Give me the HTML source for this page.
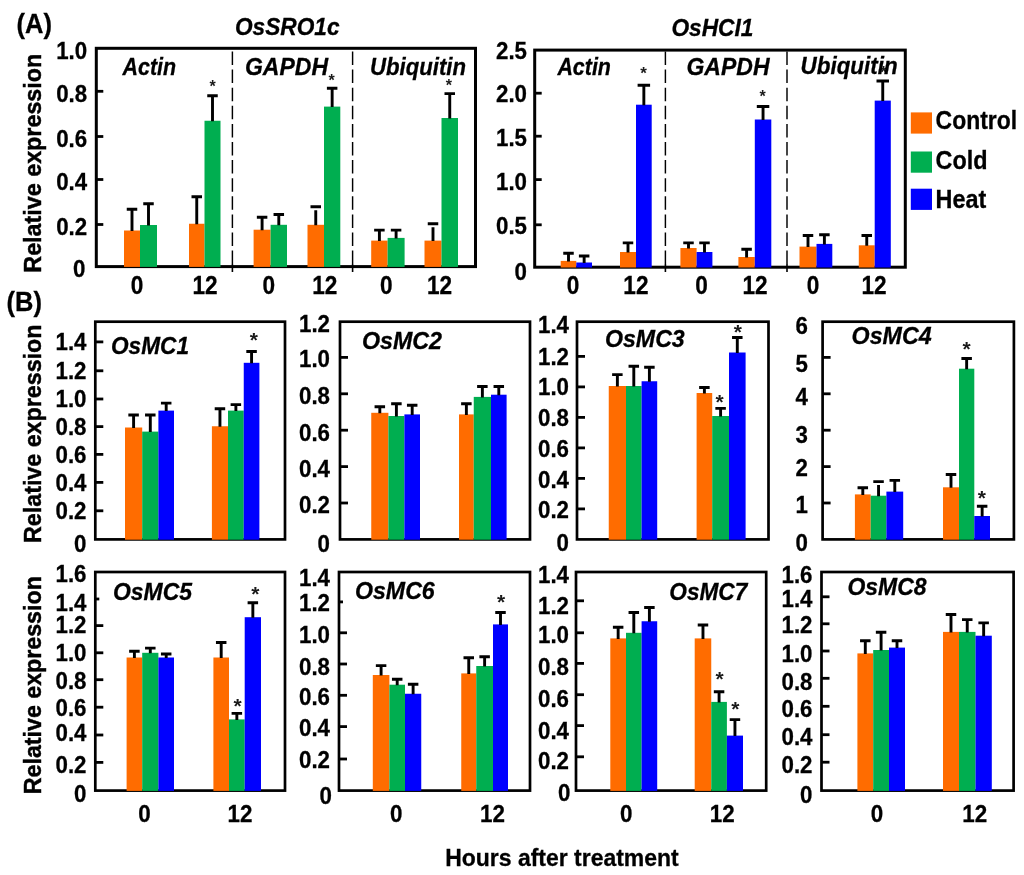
<!DOCTYPE html>
<html lang="en"><head><meta charset="utf-8"><title>Figure</title>
<style>html,body{margin:0;padding:0;background:#fff}svg{display:block;font-family:"Liberation Sans",sans-serif}</style>
</head><body>
<svg width="1024" height="875" viewBox="0 0 1024 875" fill="#000">
<rect width="1024" height="875" fill="#fff"/>
<rect x="96.3" y="48.3" width="379.2" height="218.3" fill="none" stroke="#000" stroke-width="3"/>
<rect x="124.00" y="230.50" width="16.00" height="36.40" fill="#FF6C00"/>
<rect x="140.00" y="225.00" width="17.00" height="41.90" fill="#00AE50"/>
<rect x="189.00" y="223.75" width="15.50" height="43.15" fill="#FF6C00"/>
<rect x="204.50" y="120.75" width="16.00" height="146.15" fill="#00AE50"/>
<rect x="253.60" y="229.70" width="17.00" height="37.20" fill="#FF6C00"/>
<rect x="270.60" y="224.80" width="16.40" height="42.10" fill="#00AE50"/>
<rect x="307.50" y="224.80" width="16.50" height="42.10" fill="#FF6C00"/>
<rect x="324.00" y="106.60" width="16.30" height="160.30" fill="#00AE50"/>
<rect x="371.20" y="240.60" width="16.40" height="26.30" fill="#FF6C00"/>
<rect x="387.60" y="237.90" width="17.00" height="29.00" fill="#00AE50"/>
<rect x="424.50" y="240.60" width="17.00" height="26.30" fill="#FF6C00"/>
<rect x="441.50" y="118.00" width="16.50" height="148.90" fill="#00AE50"/>
<path d="M132.00 209.20V231.00M126.75 209.20H137.25" stroke="#000" stroke-width="2.9" fill="none"/>
<path d="M148.50 203.70V225.50M143.25 203.70H153.75" stroke="#000" stroke-width="2.9" fill="none"/>
<path d="M196.75 196.70V224.25M191.50 196.70H202.00" stroke="#000" stroke-width="2.9" fill="none"/>
<path d="M212.50 95.70V121.25M207.25 95.70H217.75" stroke="#000" stroke-width="2.9" fill="none"/>
<path d="M262.10 217.20V230.20M256.85 217.20H267.35" stroke="#000" stroke-width="2.9" fill="none"/>
<path d="M278.80 214.50V225.30M273.55 214.50H284.05" stroke="#000" stroke-width="2.9" fill="none"/>
<path d="M315.75 210.30V225.30M310.50 206.80H321.00" stroke="#000" stroke-width="2.9" fill="none"/>
<path d="M332.15 88.20V107.10M326.90 88.20H337.40" stroke="#000" stroke-width="2.9" fill="none"/>
<path d="M379.40 230.10V241.10M374.15 230.10H384.65" stroke="#000" stroke-width="2.9" fill="none"/>
<path d="M396.10 230.10V238.40M390.85 230.10H401.35" stroke="#000" stroke-width="2.9" fill="none"/>
<path d="M433.00 227.30V241.10M427.75 223.80H438.25" stroke="#000" stroke-width="2.9" fill="none"/>
<path d="M449.75 93.60V118.50M444.50 93.60H455.00" stroke="#000" stroke-width="2.9" fill="none"/>
<path d="M96.3 224.50h7" stroke="#000" stroke-width="2.8"/>
<path d="M96.3 179.50h7" stroke="#000" stroke-width="2.8"/>
<path d="M96.3 136.50h7" stroke="#000" stroke-width="2.8"/>
<path d="M96.3 91.30h7" stroke="#000" stroke-width="2.8"/>
<text transform="translate(85.4 276.7) scale(0.9091 1)" font-size="24.53" font-weight="bold" text-anchor="end" stroke="#000" stroke-width="0.3">0</text>
<text transform="translate(87.2 234.9) scale(0.9091 1)" font-size="24.53" font-weight="bold" text-anchor="end" stroke="#000" stroke-width="0.3">0.2</text>
<text transform="translate(87.2 189.9) scale(0.9091 1)" font-size="24.53" font-weight="bold" text-anchor="end" stroke="#000" stroke-width="0.3">0.4</text>
<text transform="translate(87.2 146.9) scale(0.9091 1)" font-size="24.53" font-weight="bold" text-anchor="end" stroke="#000" stroke-width="0.3">0.6</text>
<text transform="translate(87.2 101.7) scale(0.9091 1)" font-size="24.53" font-weight="bold" text-anchor="end" stroke="#000" stroke-width="0.3">0.8</text>
<text transform="translate(87.2 58.7) scale(0.9091 1)" font-size="24.53" font-weight="bold" text-anchor="end" stroke="#000" stroke-width="0.3">1.0</text>
<path d="M232.4 51.5V264" stroke="#000" stroke-width="1.45" stroke-dasharray="13.5 4.6" fill="none"/>
<path d="M232.4 264V272" stroke="#000" stroke-width="1.6" fill="none"/>
<path d="M352.6 51.5V264" stroke="#000" stroke-width="1.45" stroke-dasharray="13.5 4.6" fill="none"/>
<path d="M352.6 264V272" stroke="#000" stroke-width="1.6" fill="none"/>
<text x="212.5" y="92.1" font-size="16" font-weight="bold" text-anchor="middle" fill="#1a1a1a">*</text>
<text x="331.6" y="86.1" font-size="16" font-weight="bold" text-anchor="middle" fill="#1a1a1a">*</text>
<text x="448.8" y="91.4" font-size="16" font-weight="bold" text-anchor="middle" fill="#1a1a1a">*</text>
<text transform="translate(122.5 75) scale(0.9091 1)" font-size="24.20" font-weight="bold" text-anchor="start" font-style="italic" textLength="58.9" lengthAdjust="spacingAndGlyphs" stroke="#000" stroke-width="0.3">Actin</text>
<text transform="translate(245 75.2) scale(0.9091 1)" font-size="24.20" font-weight="bold" text-anchor="start" font-style="italic" textLength="91.3" lengthAdjust="spacingAndGlyphs" stroke="#000" stroke-width="0.3">GAPDH</text>
<text transform="translate(370 75) scale(0.9091 1)" font-size="24.20" font-weight="bold" text-anchor="start" font-style="italic" textLength="105.6" lengthAdjust="spacingAndGlyphs" stroke="#000" stroke-width="0.3">Ubiquitin</text>
<text transform="translate(235 35) scale(0.9091 1)" font-size="24.20" font-weight="bold" text-anchor="start" font-style="italic" textLength="115.0" lengthAdjust="spacingAndGlyphs" stroke="#000" stroke-width="0.3">OsSRO1c</text>
<text transform="translate(16.5 32.5) scale(0.9091 1)" font-size="28.05" font-weight="bold" text-anchor="start" stroke="#000" stroke-width="0.3">(A)</text>
<text transform="translate(137 294.3) scale(0.9091 1)" font-size="24.86" font-weight="bold" text-anchor="middle" stroke="#000" stroke-width="0.3">0</text>
<text transform="translate(205 294.3) scale(0.9091 1)" font-size="24.86" font-weight="bold" text-anchor="middle" stroke="#000" stroke-width="0.3">12</text>
<text transform="translate(268.7 294.3) scale(0.9091 1)" font-size="24.86" font-weight="bold" text-anchor="middle" stroke="#000" stroke-width="0.3">0</text>
<text transform="translate(324.7 294.3) scale(0.9091 1)" font-size="24.86" font-weight="bold" text-anchor="middle" stroke="#000" stroke-width="0.3">12</text>
<text transform="translate(386.3 294.3) scale(0.9091 1)" font-size="24.86" font-weight="bold" text-anchor="middle" stroke="#000" stroke-width="0.3">0</text>
<text transform="translate(439.6 294.3) scale(0.9091 1)" font-size="24.86" font-weight="bold" text-anchor="middle" stroke="#000" stroke-width="0.3">12</text>
<rect x="534.7" y="50.1" width="370.5999999999999" height="217.1" fill="none" stroke="#000" stroke-width="3"/>
<rect x="560.70" y="260.90" width="15.60" height="6.60" fill="#FF6C00"/>
<rect x="576.30" y="262.50" width="15.70" height="5.00" fill="#0000FF"/>
<rect x="620.00" y="252.00" width="16.00" height="15.50" fill="#FF6C00"/>
<rect x="636.00" y="104.70" width="15.70" height="162.80" fill="#0000FF"/>
<rect x="680.40" y="248.00" width="16.20" height="19.50" fill="#FF6C00"/>
<rect x="696.60" y="252.00" width="15.80" height="15.50" fill="#0000FF"/>
<rect x="738.40" y="257.00" width="16.40" height="10.50" fill="#FF6C00"/>
<rect x="754.80" y="119.50" width="16.50" height="148.00" fill="#0000FF"/>
<rect x="799.50" y="246.60" width="17.00" height="20.90" fill="#FF6C00"/>
<rect x="816.50" y="243.90" width="15.80" height="23.60" fill="#0000FF"/>
<rect x="858.80" y="245.30" width="15.90" height="22.20" fill="#FF6C00"/>
<rect x="874.70" y="100.60" width="16.10" height="166.90" fill="#0000FF"/>
<path d="M568.50 253.20V261.40M563.25 253.20H573.75" stroke="#000" stroke-width="2.9" fill="none"/>
<path d="M584.15 256.00V263.00M578.90 256.00H589.40" stroke="#000" stroke-width="2.9" fill="none"/>
<path d="M628.00 242.90V252.50M622.75 242.90H633.25" stroke="#000" stroke-width="2.9" fill="none"/>
<path d="M643.85 85.20V105.20M637.60 85.20H650.10" stroke="#000" stroke-width="2.9" fill="none"/>
<path d="M688.50 242.90V248.50M683.25 242.90H693.75" stroke="#000" stroke-width="2.9" fill="none"/>
<path d="M704.50 242.90V252.50M699.25 242.90H709.75" stroke="#000" stroke-width="2.9" fill="none"/>
<path d="M746.60 249.20V257.50M741.35 249.20H751.85" stroke="#000" stroke-width="2.9" fill="none"/>
<path d="M763.05 106.50V120.00M756.80 106.50H769.30" stroke="#000" stroke-width="2.9" fill="none"/>
<path d="M808.00 235.50V247.10M802.75 235.50H813.25" stroke="#000" stroke-width="2.9" fill="none"/>
<path d="M824.40 234.70V244.40M819.15 234.70H829.65" stroke="#000" stroke-width="2.9" fill="none"/>
<path d="M866.75 235.50V245.80M861.50 235.50H872.00" stroke="#000" stroke-width="2.9" fill="none"/>
<path d="M882.75 81.00V101.10M876.50 81.00H889.00" stroke="#000" stroke-width="2.9" fill="none"/>
<path d="M534.7 224.80h7" stroke="#000" stroke-width="2.8"/>
<path d="M534.7 179.60h7" stroke="#000" stroke-width="2.8"/>
<path d="M534.7 136.20h7" stroke="#000" stroke-width="2.8"/>
<path d="M534.7 93.20h7" stroke="#000" stroke-width="2.8"/>
<text transform="translate(527 279.9) scale(0.9091 1)" font-size="24.53" font-weight="bold" text-anchor="end" stroke="#000" stroke-width="0.3">0</text>
<text transform="translate(527 234.2) scale(0.9091 1)" font-size="24.53" font-weight="bold" text-anchor="end" stroke="#000" stroke-width="0.3">0.5</text>
<text transform="translate(527 189.9) scale(0.9091 1)" font-size="24.53" font-weight="bold" text-anchor="end" stroke="#000" stroke-width="0.3">1.0</text>
<text transform="translate(527 146.2) scale(0.9091 1)" font-size="24.53" font-weight="bold" text-anchor="end" stroke="#000" stroke-width="0.3">1.5</text>
<text transform="translate(527 102.4) scale(0.9091 1)" font-size="24.53" font-weight="bold" text-anchor="end" stroke="#000" stroke-width="0.3">2.0</text>
<text transform="translate(527 59.0) scale(0.9091 1)" font-size="24.53" font-weight="bold" text-anchor="end" stroke="#000" stroke-width="0.3">2.5</text>
<path d="M665.4 51.5V264" stroke="#000" stroke-width="1.45" stroke-dasharray="13.5 4.6" fill="none"/>
<path d="M665.4 264V272" stroke="#000" stroke-width="1.6" fill="none"/>
<path d="M787 51.5V264" stroke="#000" stroke-width="1.45" stroke-dasharray="13.5 4.6" fill="none"/>
<path d="M787 264V272" stroke="#000" stroke-width="1.6" fill="none"/>
<text x="643.5" y="78.6" font-size="17" font-weight="bold" text-anchor="middle" fill="#1a1a1a">*</text>
<text x="762.6" y="102.4" font-size="16" font-weight="bold" text-anchor="middle" fill="#1a1a1a">*</text>
<text x="883.5" y="78.1" font-size="16" font-weight="bold" text-anchor="middle" fill="#1a1a1a">*</text>
<text transform="translate(557.4 75) scale(0.9091 1)" font-size="24.20" font-weight="bold" text-anchor="start" font-style="italic" textLength="58.9" lengthAdjust="spacingAndGlyphs" stroke="#000" stroke-width="0.3">Actin</text>
<text transform="translate(686.5 75) scale(0.9091 1)" font-size="24.20" font-weight="bold" text-anchor="start" font-style="italic" textLength="91.3" lengthAdjust="spacingAndGlyphs" stroke="#000" stroke-width="0.3">GAPDH</text>
<text transform="translate(800.6 74) scale(0.9091 1)" font-size="24.20" font-weight="bold" text-anchor="start" font-style="italic" textLength="106.7" lengthAdjust="spacingAndGlyphs" stroke="#000" stroke-width="0.3">Ubiquitin</text>
<text transform="translate(671.4 35.5) scale(0.9091 1)" font-size="24.20" font-weight="bold" text-anchor="start" font-style="italic" textLength="90.2" lengthAdjust="spacingAndGlyphs" stroke="#000" stroke-width="0.3">OsHCI1</text>
<text transform="translate(573 294.3) scale(0.9091 1)" font-size="24.86" font-weight="bold" text-anchor="middle" stroke="#000" stroke-width="0.3">0</text>
<text transform="translate(635.9 294.3) scale(0.9091 1)" font-size="24.86" font-weight="bold" text-anchor="middle" stroke="#000" stroke-width="0.3">12</text>
<text transform="translate(701.5 294.3) scale(0.9091 1)" font-size="24.86" font-weight="bold" text-anchor="middle" stroke="#000" stroke-width="0.3">0</text>
<text transform="translate(755 294.3) scale(0.9091 1)" font-size="24.86" font-weight="bold" text-anchor="middle" stroke="#000" stroke-width="0.3">12</text>
<text transform="translate(813 294.3) scale(0.9091 1)" font-size="24.86" font-weight="bold" text-anchor="middle" stroke="#000" stroke-width="0.3">0</text>
<text transform="translate(874 294.3) scale(0.9091 1)" font-size="24.86" font-weight="bold" text-anchor="middle" stroke="#000" stroke-width="0.3">12</text>
<rect x="910.8" y="112.4" width="21.2" height="21.2" fill="#FF6C00"/>
<text transform="translate(935.6 129) scale(0.9091 1)" font-size="25.74" font-weight="bold" text-anchor="start" textLength="89.7" lengthAdjust="spacingAndGlyphs" stroke="#000" stroke-width="0.3">Control</text>
<rect x="910.8" y="151.5" width="21.2" height="21.2" fill="#00AE50"/>
<text transform="translate(935.6 168.7) scale(0.9091 1)" font-size="25.74" font-weight="bold" text-anchor="start" stroke="#000" stroke-width="0.3">Cold</text>
<rect x="910.8" y="188.7" width="21.2" height="21.2" fill="#0000FF"/>
<text transform="translate(935.6 207.8) scale(0.9091 1)" font-size="25.74" font-weight="bold" text-anchor="start" stroke="#000" stroke-width="0.3">Heat</text>
<text transform="translate(6.5 311) scale(0.9091 1)" font-size="28.05" font-weight="bold" text-anchor="start" stroke="#000" stroke-width="0.3">(B)</text>
<rect x="95.3" y="321.7" width="189.7" height="217.7" fill="none" stroke="#000" stroke-width="2.7"/>
<rect x="125.00" y="427.50" width="17.20" height="112.20" fill="#FF6C00"/>
<rect x="142.20" y="431.60" width="16.20" height="108.10" fill="#00AE50"/>
<rect x="158.40" y="410.60" width="15.60" height="129.10" fill="#0000FF"/>
<rect x="211.90" y="426.25" width="16.10" height="113.45" fill="#FF6C00"/>
<rect x="228.00" y="410.60" width="15.75" height="129.10" fill="#00AE50"/>
<rect x="243.75" y="362.80" width="15.65" height="176.90" fill="#0000FF"/>
<path d="M133.60 414.95V428.00M128.35 414.95H138.85" stroke="#000" stroke-width="2.9" fill="none"/>
<path d="M150.30 414.95V432.10M145.05 414.95H155.55" stroke="#000" stroke-width="2.9" fill="none"/>
<path d="M166.20 403.10V411.10M160.95 403.10H171.45" stroke="#000" stroke-width="2.9" fill="none"/>
<path d="M219.95 408.70V426.75M214.70 408.70H225.20" stroke="#000" stroke-width="2.9" fill="none"/>
<path d="M235.88 404.60V411.10M230.62 404.60H241.12" stroke="#000" stroke-width="2.9" fill="none"/>
<path d="M251.57 351.50V363.30M246.32 351.50H256.82" stroke="#000" stroke-width="2.9" fill="none"/>
<path d="M95.3 510.80h8" stroke="#000" stroke-width="2.8"/>
<path d="M95.3 482.40h8" stroke="#000" stroke-width="2.8"/>
<path d="M95.3 454.40h8" stroke="#000" stroke-width="2.8"/>
<path d="M95.3 426.60h8" stroke="#000" stroke-width="2.8"/>
<path d="M95.3 399.00h8" stroke="#000" stroke-width="2.8"/>
<path d="M95.3 370.80h8" stroke="#000" stroke-width="2.8"/>
<path d="M95.3 341.90h8" stroke="#000" stroke-width="2.8"/>
<text transform="translate(86.5 552.4) scale(0.9091 1)" font-size="24.53" font-weight="bold" text-anchor="end" stroke="#000" stroke-width="0.3">0</text>
<text transform="translate(86.5 519.2) scale(0.9091 1)" font-size="24.53" font-weight="bold" text-anchor="end" stroke="#000" stroke-width="0.3">0.2</text>
<text transform="translate(86.5 490.8) scale(0.9091 1)" font-size="24.53" font-weight="bold" text-anchor="end" stroke="#000" stroke-width="0.3">0.4</text>
<text transform="translate(86.5 462.8) scale(0.9091 1)" font-size="24.53" font-weight="bold" text-anchor="end" stroke="#000" stroke-width="0.3">0.6</text>
<text transform="translate(86.5 435.0) scale(0.9091 1)" font-size="24.53" font-weight="bold" text-anchor="end" stroke="#000" stroke-width="0.3">0.8</text>
<text transform="translate(86.5 407.4) scale(0.9091 1)" font-size="24.53" font-weight="bold" text-anchor="end" stroke="#000" stroke-width="0.3">1.0</text>
<text transform="translate(86.5 379.2) scale(0.9091 1)" font-size="24.53" font-weight="bold" text-anchor="end" stroke="#000" stroke-width="0.3">1.2</text>
<text transform="translate(86.5 350.3) scale(0.9091 1)" font-size="24.53" font-weight="bold" text-anchor="end" stroke="#000" stroke-width="0.3">1.4</text>
<text x="253.8" y="347.0" font-size="21" font-weight="bold" text-anchor="middle" fill="#1a1a1a">*</text>
<text transform="translate(111 354.4) scale(0.9091 1)" font-size="24.20" font-weight="bold" text-anchor="start" font-style="italic" textLength="85.8" lengthAdjust="spacingAndGlyphs" stroke="#000" stroke-width="0.3">OsMC1</text>
<rect x="340" y="321.7" width="190" height="217.7" fill="none" stroke="#000" stroke-width="2.7"/>
<rect x="371.25" y="412.80" width="17.15" height="126.90" fill="#FF6C00"/>
<rect x="388.40" y="416.00" width="16.00" height="123.70" fill="#00AE50"/>
<rect x="404.40" y="414.40" width="15.60" height="125.30" fill="#0000FF"/>
<rect x="459.00" y="414.40" width="14.75" height="125.30" fill="#FF6C00"/>
<rect x="473.75" y="396.90" width="17.25" height="142.80" fill="#00AE50"/>
<rect x="491.00" y="394.70" width="15.60" height="145.00" fill="#0000FF"/>
<path d="M379.82 406.80V413.30M374.57 406.80H385.07" stroke="#000" stroke-width="2.9" fill="none"/>
<path d="M396.40 403.70V416.50M391.15 403.70H401.65" stroke="#000" stroke-width="2.9" fill="none"/>
<path d="M412.20 405.20V414.90M406.95 405.20H417.45" stroke="#000" stroke-width="2.9" fill="none"/>
<path d="M466.38 403.70V414.90M461.12 403.70H471.62" stroke="#000" stroke-width="2.9" fill="none"/>
<path d="M482.38 386.50V397.40M477.12 386.50H487.62" stroke="#000" stroke-width="2.9" fill="none"/>
<path d="M498.80 386.50V395.20M493.55 386.50H504.05" stroke="#000" stroke-width="2.9" fill="none"/>
<path d="M340 503.00h8" stroke="#000" stroke-width="2.8"/>
<path d="M340 466.60h8" stroke="#000" stroke-width="2.8"/>
<path d="M340 430.20h8" stroke="#000" stroke-width="2.8"/>
<path d="M340 393.80h8" stroke="#000" stroke-width="2.8"/>
<path d="M340 357.40h8" stroke="#000" stroke-width="2.8"/>
<text transform="translate(330 552.0) scale(0.9091 1)" font-size="24.53" font-weight="bold" text-anchor="end" stroke="#000" stroke-width="0.3">0</text>
<text transform="translate(330 513.4) scale(0.9091 1)" font-size="24.53" font-weight="bold" text-anchor="end" stroke="#000" stroke-width="0.3">0.2</text>
<text transform="translate(330 476.9) scale(0.9091 1)" font-size="24.53" font-weight="bold" text-anchor="end" stroke="#000" stroke-width="0.3">0.4</text>
<text transform="translate(330 440.6) scale(0.9091 1)" font-size="24.53" font-weight="bold" text-anchor="end" stroke="#000" stroke-width="0.3">0.6</text>
<text transform="translate(330 404.0) scale(0.9091 1)" font-size="24.53" font-weight="bold" text-anchor="end" stroke="#000" stroke-width="0.3">0.8</text>
<text transform="translate(330 367.4) scale(0.9091 1)" font-size="24.53" font-weight="bold" text-anchor="end" stroke="#000" stroke-width="0.3">1.0</text>
<text transform="translate(330 332.0) scale(0.9091 1)" font-size="24.53" font-weight="bold" text-anchor="end" stroke="#000" stroke-width="0.3">1.2</text>
<text transform="translate(362 349.4) scale(0.9091 1)" font-size="24.20" font-weight="bold" text-anchor="start" font-style="italic" textLength="88.0" lengthAdjust="spacingAndGlyphs" stroke="#000" stroke-width="0.3">OsMC2</text>
<rect x="577" y="321.7" width="191.5" height="217.7" fill="none" stroke="#000" stroke-width="2.7"/>
<rect x="608.75" y="386.00" width="17.25" height="153.70" fill="#FF6C00"/>
<rect x="626.00" y="386.00" width="15.60" height="153.70" fill="#00AE50"/>
<rect x="641.60" y="381.25" width="15.60" height="158.45" fill="#0000FF"/>
<rect x="696.60" y="393.00" width="15.60" height="146.70" fill="#FF6C00"/>
<rect x="712.20" y="416.00" width="16.80" height="123.70" fill="#00AE50"/>
<rect x="729.00" y="352.50" width="16.60" height="187.20" fill="#0000FF"/>
<path d="M617.38 374.60V386.50M612.12 374.60H622.62" stroke="#000" stroke-width="2.9" fill="none"/>
<path d="M633.80 366.20V386.50M628.55 366.20H639.05" stroke="#000" stroke-width="2.9" fill="none"/>
<path d="M649.40 367.20V381.75M644.15 367.20H654.65" stroke="#000" stroke-width="2.9" fill="none"/>
<path d="M704.40 387.45V393.50M699.15 387.45H709.65" stroke="#000" stroke-width="2.9" fill="none"/>
<path d="M720.60 408.40V416.50M715.35 408.40H725.85" stroke="#000" stroke-width="2.9" fill="none"/>
<path d="M737.30 337.45V353.00M732.05 337.45H742.55" stroke="#000" stroke-width="2.9" fill="none"/>
<path d="M577 508.90h8" stroke="#000" stroke-width="2.8"/>
<path d="M577 478.40h8" stroke="#000" stroke-width="2.8"/>
<path d="M577 447.90h8" stroke="#000" stroke-width="2.8"/>
<path d="M577 417.40h8" stroke="#000" stroke-width="2.8"/>
<path d="M577 386.90h8" stroke="#000" stroke-width="2.8"/>
<path d="M577 356.40h8" stroke="#000" stroke-width="2.8"/>
<text transform="translate(569 551.2) scale(0.9091 1)" font-size="24.53" font-weight="bold" text-anchor="end" stroke="#000" stroke-width="0.3">0</text>
<text transform="translate(569 518.3) scale(0.9091 1)" font-size="24.53" font-weight="bold" text-anchor="end" stroke="#000" stroke-width="0.3">0.2</text>
<text transform="translate(569 488.3) scale(0.9091 1)" font-size="24.53" font-weight="bold" text-anchor="end" stroke="#000" stroke-width="0.3">0.4</text>
<text transform="translate(569 457.4) scale(0.9091 1)" font-size="24.53" font-weight="bold" text-anchor="end" stroke="#000" stroke-width="0.3">0.6</text>
<text transform="translate(569 426.0) scale(0.9091 1)" font-size="24.53" font-weight="bold" text-anchor="end" stroke="#000" stroke-width="0.3">0.8</text>
<text transform="translate(569 395.4) scale(0.9091 1)" font-size="24.53" font-weight="bold" text-anchor="end" stroke="#000" stroke-width="0.3">1.0</text>
<text transform="translate(569 365.4) scale(0.9091 1)" font-size="24.53" font-weight="bold" text-anchor="end" stroke="#000" stroke-width="0.3">1.2</text>
<text transform="translate(569 333.2) scale(0.9091 1)" font-size="24.53" font-weight="bold" text-anchor="end" stroke="#000" stroke-width="0.3">1.4</text>
<text x="719.7" y="409.4" font-size="21" font-weight="bold" text-anchor="middle" fill="#1a1a1a">*</text>
<text x="737.8" y="339.0" font-size="21" font-weight="bold" text-anchor="middle" fill="#1a1a1a">*</text>
<text transform="translate(605 347.2) scale(0.9091 1)" font-size="24.20" font-weight="bold" text-anchor="start" font-style="italic" textLength="87.7" lengthAdjust="spacingAndGlyphs" stroke="#000" stroke-width="0.3">OsMC3</text>
<rect x="822.6" y="321.7" width="191.29999999999995" height="217.7" fill="none" stroke="#000" stroke-width="2.7"/>
<rect x="854.90" y="494.40" width="15.80" height="45.30" fill="#FF6C00"/>
<rect x="870.70" y="495.70" width="15.70" height="44.00" fill="#00AE50"/>
<rect x="886.40" y="491.60" width="16.80" height="48.10" fill="#0000FF"/>
<rect x="943.00" y="487.30" width="16.00" height="52.40" fill="#FF6C00"/>
<rect x="959.00" y="368.70" width="15.30" height="171.00" fill="#00AE50"/>
<rect x="974.30" y="516.00" width="15.70" height="23.70" fill="#0000FF"/>
<path d="M862.80 487.70V494.90M857.55 487.70H868.05" stroke="#000" stroke-width="2.9" fill="none"/>
<path d="M878.55 485.10V496.20M873.30 481.60H883.80" stroke="#000" stroke-width="2.9" fill="none"/>
<path d="M894.80 480.40V492.10M889.55 480.40H900.05" stroke="#000" stroke-width="2.9" fill="none"/>
<path d="M951.00 474.50V487.80M945.75 474.50H956.25" stroke="#000" stroke-width="2.9" fill="none"/>
<path d="M966.65 358.50V369.20M961.40 358.50H971.90" stroke="#000" stroke-width="2.9" fill="none"/>
<path d="M982.15 506.20V516.50M976.90 506.20H987.40" stroke="#000" stroke-width="2.9" fill="none"/>
<path d="M822.6 503.00h8" stroke="#000" stroke-width="2.8"/>
<path d="M822.6 466.60h8" stroke="#000" stroke-width="2.8"/>
<path d="M822.6 430.20h8" stroke="#000" stroke-width="2.8"/>
<path d="M822.6 393.80h8" stroke="#000" stroke-width="2.8"/>
<path d="M822.6 357.40h8" stroke="#000" stroke-width="2.8"/>
<text transform="translate(808 551.2) scale(0.9091 1)" font-size="24.53" font-weight="bold" text-anchor="end" stroke="#000" stroke-width="0.3">0</text>
<text transform="translate(808 513.2) scale(0.9091 1)" font-size="24.53" font-weight="bold" text-anchor="end" stroke="#000" stroke-width="0.3">1</text>
<text transform="translate(808 476.0) scale(0.9091 1)" font-size="24.53" font-weight="bold" text-anchor="end" stroke="#000" stroke-width="0.3">2</text>
<text transform="translate(808 442.6) scale(0.9091 1)" font-size="24.53" font-weight="bold" text-anchor="end" stroke="#000" stroke-width="0.3">3</text>
<text transform="translate(808 405.4) scale(0.9091 1)" font-size="24.53" font-weight="bold" text-anchor="end" stroke="#000" stroke-width="0.3">4</text>
<text transform="translate(808 372.0) scale(0.9091 1)" font-size="24.53" font-weight="bold" text-anchor="end" stroke="#000" stroke-width="0.3">5</text>
<text transform="translate(808 334.0) scale(0.9091 1)" font-size="24.53" font-weight="bold" text-anchor="end" stroke="#000" stroke-width="0.3">6</text>
<text x="966.6" y="356.0" font-size="21" font-weight="bold" text-anchor="middle" fill="#1a1a1a">*</text>
<text x="981.9" y="505.0" font-size="21" font-weight="bold" text-anchor="middle" fill="#1a1a1a">*</text>
<text transform="translate(851.6 344) scale(0.9091 1)" font-size="24.20" font-weight="bold" text-anchor="start" font-style="italic" textLength="88.0" lengthAdjust="spacingAndGlyphs" stroke="#000" stroke-width="0.3">OsMC4</text>
<rect x="95.3" y="572.0" width="189.7" height="218.60000000000002" fill="none" stroke="#000" stroke-width="2.7"/>
<rect x="126.60" y="657.50" width="15.60" height="133.40" fill="#FF6C00"/>
<rect x="142.20" y="652.80" width="16.20" height="138.10" fill="#00AE50"/>
<rect x="158.40" y="657.50" width="15.60" height="133.40" fill="#0000FF"/>
<rect x="213.40" y="657.50" width="15.60" height="133.40" fill="#FF6C00"/>
<rect x="229.00" y="719.40" width="15.70" height="71.50" fill="#00AE50"/>
<rect x="244.70" y="617.20" width="16.30" height="173.70" fill="#0000FF"/>
<path d="M134.40 651.20V658.00M129.15 651.20H139.65" stroke="#000" stroke-width="2.9" fill="none"/>
<path d="M150.30 648.10V653.30M145.05 648.10H155.55" stroke="#000" stroke-width="2.9" fill="none"/>
<path d="M166.20 654.00V658.00M160.95 654.00H171.45" stroke="#000" stroke-width="2.9" fill="none"/>
<path d="M221.20 642.45V658.00M215.95 642.45H226.45" stroke="#000" stroke-width="2.9" fill="none"/>
<path d="M236.85 713.40V719.90M231.60 713.40H242.10" stroke="#000" stroke-width="2.9" fill="none"/>
<path d="M252.85 602.80V617.70M247.60 602.80H258.10" stroke="#000" stroke-width="2.9" fill="none"/>
<path d="M95.3 762.40h8" stroke="#000" stroke-width="2.8"/>
<path d="M95.3 735.00h8" stroke="#000" stroke-width="2.8"/>
<path d="M95.3 707.20h8" stroke="#000" stroke-width="2.8"/>
<path d="M95.3 679.70h8" stroke="#000" stroke-width="2.8"/>
<path d="M95.3 652.80h8" stroke="#000" stroke-width="2.8"/>
<path d="M95.3 625.60h8" stroke="#000" stroke-width="2.8"/>
<path d="M95.3 599.00h4" stroke="#000" stroke-width="2.8"/>
<text transform="translate(86.5 802.0) scale(0.9091 1)" font-size="24.53" font-weight="bold" text-anchor="end" stroke="#000" stroke-width="0.3">0</text>
<text transform="translate(86.5 772.6) scale(0.9091 1)" font-size="24.53" font-weight="bold" text-anchor="end" stroke="#000" stroke-width="0.3">0.2</text>
<text transform="translate(86.5 741.2) scale(0.9091 1)" font-size="24.53" font-weight="bold" text-anchor="end" stroke="#000" stroke-width="0.3">0.4</text>
<text transform="translate(86.5 716.3) scale(0.9091 1)" font-size="24.53" font-weight="bold" text-anchor="end" stroke="#000" stroke-width="0.3">0.6</text>
<text transform="translate(86.5 689.2) scale(0.9091 1)" font-size="24.53" font-weight="bold" text-anchor="end" stroke="#000" stroke-width="0.3">0.8</text>
<text transform="translate(86.5 661.2) scale(0.9091 1)" font-size="24.53" font-weight="bold" text-anchor="end" stroke="#000" stroke-width="0.3">1.0</text>
<text transform="translate(86.5 632.6) scale(0.9091 1)" font-size="24.53" font-weight="bold" text-anchor="end" stroke="#000" stroke-width="0.3">1.2</text>
<text transform="translate(86.5 610.6) scale(0.9091 1)" font-size="24.53" font-weight="bold" text-anchor="end" stroke="#000" stroke-width="0.3">1.4</text>
<text transform="translate(86.5 582.0) scale(0.9091 1)" font-size="24.53" font-weight="bold" text-anchor="end" stroke="#000" stroke-width="0.3">1.6</text>
<text x="237.5" y="713.0" font-size="21" font-weight="bold" text-anchor="middle" fill="#1a1a1a">*</text>
<text x="255.3" y="601.3" font-size="21" font-weight="bold" text-anchor="middle" fill="#1a1a1a">*</text>
<text transform="translate(113 600) scale(0.9091 1)" font-size="24.20" font-weight="bold" text-anchor="start" font-style="italic" textLength="86.9" lengthAdjust="spacingAndGlyphs" stroke="#000" stroke-width="0.3">OsMC5</text>
<rect x="339" y="572.0" width="191" height="218.60000000000002" fill="none" stroke="#000" stroke-width="2.7"/>
<rect x="372.80" y="675.00" width="16.60" height="115.90" fill="#FF6C00"/>
<rect x="389.40" y="684.70" width="15.60" height="106.20" fill="#00AE50"/>
<rect x="405.00" y="693.75" width="16.25" height="97.15" fill="#0000FF"/>
<rect x="461.25" y="673.40" width="15.00" height="117.50" fill="#FF6C00"/>
<rect x="476.25" y="666.00" width="16.75" height="124.90" fill="#00AE50"/>
<rect x="493.00" y="624.40" width="15.00" height="166.50" fill="#0000FF"/>
<path d="M381.10 665.60V675.50M375.85 665.60H386.35" stroke="#000" stroke-width="2.9" fill="none"/>
<path d="M397.20 679.20V685.20M391.95 679.20H402.45" stroke="#000" stroke-width="2.9" fill="none"/>
<path d="M413.12 684.20V694.25M407.88 684.20H418.38" stroke="#000" stroke-width="2.9" fill="none"/>
<path d="M468.75 657.80V673.90M463.50 657.80H474.00" stroke="#000" stroke-width="2.9" fill="none"/>
<path d="M484.62 656.80V666.50M479.38 656.80H489.88" stroke="#000" stroke-width="2.9" fill="none"/>
<path d="M500.50 612.45V624.90M495.25 612.45H505.75" stroke="#000" stroke-width="2.9" fill="none"/>
<path d="M339 759.00h8" stroke="#000" stroke-width="2.8"/>
<path d="M339 726.60h8" stroke="#000" stroke-width="2.8"/>
<path d="M339 695.30h8" stroke="#000" stroke-width="2.8"/>
<path d="M339 664.00h8" stroke="#000" stroke-width="2.8"/>
<path d="M339 632.80h8" stroke="#000" stroke-width="2.8"/>
<path d="M339 601.90h4" stroke="#000" stroke-width="2.8"/>
<text transform="translate(332 804.0) scale(0.9091 1)" font-size="24.53" font-weight="bold" text-anchor="end" stroke="#000" stroke-width="0.3">0</text>
<text transform="translate(330 768.3) scale(0.9091 1)" font-size="24.53" font-weight="bold" text-anchor="end" stroke="#000" stroke-width="0.3">0.2</text>
<text transform="translate(330 736.3) scale(0.9091 1)" font-size="24.53" font-weight="bold" text-anchor="end" stroke="#000" stroke-width="0.3">0.4</text>
<text transform="translate(330 705.4) scale(0.9091 1)" font-size="24.53" font-weight="bold" text-anchor="end" stroke="#000" stroke-width="0.3">0.6</text>
<text transform="translate(330 674.9) scale(0.9091 1)" font-size="24.53" font-weight="bold" text-anchor="end" stroke="#000" stroke-width="0.3">0.8</text>
<text transform="translate(330 642.6) scale(0.9091 1)" font-size="24.53" font-weight="bold" text-anchor="end" stroke="#000" stroke-width="0.3">1.0</text>
<text transform="translate(330 610.6) scale(0.9091 1)" font-size="24.53" font-weight="bold" text-anchor="end" stroke="#000" stroke-width="0.3">1.2</text>
<text transform="translate(330 586.0) scale(0.9091 1)" font-size="24.53" font-weight="bold" text-anchor="end" stroke="#000" stroke-width="0.3">1.4</text>
<text x="501.0" y="609.4" font-size="21" font-weight="bold" text-anchor="middle" fill="#1a1a1a">*</text>
<text transform="translate(355 599.4) scale(0.9091 1)" font-size="24.20" font-weight="bold" text-anchor="start" font-style="italic" textLength="87.7" lengthAdjust="spacingAndGlyphs" stroke="#000" stroke-width="0.3">OsMC6</text>
<rect x="576" y="572.0" width="190.20000000000005" height="218.60000000000002" fill="none" stroke="#000" stroke-width="2.7"/>
<rect x="610.30" y="638.40" width="15.70" height="152.50" fill="#FF6C00"/>
<rect x="626.00" y="632.80" width="15.60" height="158.10" fill="#00AE50"/>
<rect x="641.60" y="621.25" width="15.60" height="169.65" fill="#0000FF"/>
<rect x="694.70" y="638.40" width="16.55" height="152.50" fill="#FF6C00"/>
<rect x="711.25" y="701.90" width="15.65" height="89.00" fill="#00AE50"/>
<rect x="726.90" y="735.60" width="16.10" height="55.30" fill="#0000FF"/>
<path d="M618.15 627.20V638.90M612.90 627.20H623.40" stroke="#000" stroke-width="2.9" fill="none"/>
<path d="M633.80 612.45V633.30M628.55 612.45H639.05" stroke="#000" stroke-width="2.9" fill="none"/>
<path d="M649.40 607.45V621.75M644.15 607.45H654.65" stroke="#000" stroke-width="2.9" fill="none"/>
<path d="M702.98 624.95V638.90M697.73 624.95H708.23" stroke="#000" stroke-width="2.9" fill="none"/>
<path d="M719.08 691.80V702.40M713.83 691.80H724.33" stroke="#000" stroke-width="2.9" fill="none"/>
<path d="M734.95 719.60V736.10M729.70 719.60H740.20" stroke="#000" stroke-width="2.9" fill="none"/>
<path d="M576 756.80h8" stroke="#000" stroke-width="2.8"/>
<path d="M576 725.60h8" stroke="#000" stroke-width="2.8"/>
<path d="M576 694.70h8" stroke="#000" stroke-width="2.8"/>
<path d="M576 663.40h8" stroke="#000" stroke-width="2.8"/>
<path d="M576 632.80h8" stroke="#000" stroke-width="2.8"/>
<path d="M576 600.80h8" stroke="#000" stroke-width="2.8"/>
<text transform="translate(570.4 801.2) scale(0.9091 1)" font-size="24.53" font-weight="bold" text-anchor="end" stroke="#000" stroke-width="0.3">0</text>
<text transform="translate(569 768.9) scale(0.9091 1)" font-size="24.53" font-weight="bold" text-anchor="end" stroke="#000" stroke-width="0.3">0.2</text>
<text transform="translate(569 738.9) scale(0.9091 1)" font-size="24.53" font-weight="bold" text-anchor="end" stroke="#000" stroke-width="0.3">0.4</text>
<text transform="translate(569 706.9) scale(0.9091 1)" font-size="24.53" font-weight="bold" text-anchor="end" stroke="#000" stroke-width="0.3">0.6</text>
<text transform="translate(569 675.4) scale(0.9091 1)" font-size="24.53" font-weight="bold" text-anchor="end" stroke="#000" stroke-width="0.3">0.8</text>
<text transform="translate(569 643.2) scale(0.9091 1)" font-size="24.53" font-weight="bold" text-anchor="end" stroke="#000" stroke-width="0.3">1.0</text>
<text transform="translate(569 614.0) scale(0.9091 1)" font-size="24.53" font-weight="bold" text-anchor="end" stroke="#000" stroke-width="0.3">1.2</text>
<text transform="translate(569 583.2) scale(0.9091 1)" font-size="24.53" font-weight="bold" text-anchor="end" stroke="#000" stroke-width="0.3">1.4</text>
<text x="719.7" y="686.0" font-size="21" font-weight="bold" text-anchor="middle" fill="#1a1a1a">*</text>
<text x="735.3" y="716.0" font-size="21" font-weight="bold" text-anchor="middle" fill="#1a1a1a">*</text>
<text transform="translate(669.3 600) scale(0.9091 1)" font-size="24.20" font-weight="bold" text-anchor="start" font-style="italic" textLength="85.8" lengthAdjust="spacingAndGlyphs" stroke="#000" stroke-width="0.3">OsMC7</text>
<rect x="821.5" y="572.0" width="192.10000000000002" height="218.60000000000002" fill="none" stroke="#000" stroke-width="2.7"/>
<rect x="857.40" y="653.40" width="15.80" height="137.50" fill="#FF6C00"/>
<rect x="873.20" y="650.00" width="15.80" height="140.90" fill="#00AE50"/>
<rect x="889.00" y="647.60" width="16.00" height="143.30" fill="#0000FF"/>
<rect x="943.00" y="631.90" width="16.00" height="159.00" fill="#FF6C00"/>
<rect x="959.00" y="631.90" width="16.50" height="159.00" fill="#00AE50"/>
<rect x="975.50" y="635.70" width="16.30" height="155.20" fill="#0000FF"/>
<path d="M865.30 640.70V653.90M860.05 640.70H870.55" stroke="#000" stroke-width="2.9" fill="none"/>
<path d="M881.10 632.20V650.50M875.85 632.20H886.35" stroke="#000" stroke-width="2.9" fill="none"/>
<path d="M897.00 640.70V648.10M891.75 640.70H902.25" stroke="#000" stroke-width="2.9" fill="none"/>
<path d="M951.00 614.50V632.40M945.75 614.50H956.25" stroke="#000" stroke-width="2.9" fill="none"/>
<path d="M967.25 619.60V632.40M962.00 619.60H972.50" stroke="#000" stroke-width="2.9" fill="none"/>
<path d="M983.65 622.90V636.20M978.40 622.90H988.90" stroke="#000" stroke-width="2.9" fill="none"/>
<path d="M821.5 762.20h8" stroke="#000" stroke-width="2.8"/>
<path d="M821.5 734.70h8" stroke="#000" stroke-width="2.8"/>
<path d="M821.5 706.30h8" stroke="#000" stroke-width="2.8"/>
<path d="M821.5 678.30h8" stroke="#000" stroke-width="2.8"/>
<path d="M821.5 651.00h8" stroke="#000" stroke-width="2.8"/>
<path d="M821.5 623.80h8" stroke="#000" stroke-width="2.8"/>
<path d="M821.5 596.80h8" stroke="#000" stroke-width="2.8"/>
<text transform="translate(812.5 802.6) scale(0.9091 1)" font-size="24.53" font-weight="bold" text-anchor="end" stroke="#000" stroke-width="0.3">0</text>
<text transform="translate(812.5 772.6) scale(0.9091 1)" font-size="24.53" font-weight="bold" text-anchor="end" stroke="#000" stroke-width="0.3">0.2</text>
<text transform="translate(812.5 745.4) scale(0.9091 1)" font-size="24.53" font-weight="bold" text-anchor="end" stroke="#000" stroke-width="0.3">0.4</text>
<text transform="translate(812.5 716.9) scale(0.9091 1)" font-size="24.53" font-weight="bold" text-anchor="end" stroke="#000" stroke-width="0.3">0.6</text>
<text transform="translate(812.5 689.7) scale(0.9091 1)" font-size="24.53" font-weight="bold" text-anchor="end" stroke="#000" stroke-width="0.3">0.8</text>
<text transform="translate(812.5 662.0) scale(0.9091 1)" font-size="24.53" font-weight="bold" text-anchor="end" stroke="#000" stroke-width="0.3">1.0</text>
<text transform="translate(812.5 632.6) scale(0.9091 1)" font-size="24.53" font-weight="bold" text-anchor="end" stroke="#000" stroke-width="0.3">1.2</text>
<text transform="translate(812.5 606.9) scale(0.9091 1)" font-size="24.53" font-weight="bold" text-anchor="end" stroke="#000" stroke-width="0.3">1.4</text>
<text transform="translate(812.5 583.2) scale(0.9091 1)" font-size="24.53" font-weight="bold" text-anchor="end" stroke="#000" stroke-width="0.3">1.6</text>
<text transform="translate(847.5 595) scale(0.9091 1)" font-size="24.20" font-weight="bold" text-anchor="start" font-style="italic" textLength="86.9" lengthAdjust="spacingAndGlyphs" stroke="#000" stroke-width="0.3">OsMC8</text>
<text transform="translate(144.4 822.3) scale(0.9091 1)" font-size="24.64" font-weight="bold" text-anchor="middle" stroke="#000" stroke-width="0.3">0</text>
<text transform="translate(240 822.3) scale(0.9091 1)" font-size="24.64" font-weight="bold" text-anchor="middle" stroke="#000" stroke-width="0.3">12</text>
<text transform="translate(396.25 822.3) scale(0.9091 1)" font-size="24.64" font-weight="bold" text-anchor="middle" stroke="#000" stroke-width="0.3">0</text>
<text transform="translate(492.5 822.3) scale(0.9091 1)" font-size="24.64" font-weight="bold" text-anchor="middle" stroke="#000" stroke-width="0.3">12</text>
<text transform="translate(626.25 822.3) scale(0.9091 1)" font-size="24.64" font-weight="bold" text-anchor="middle" stroke="#000" stroke-width="0.3">0</text>
<text transform="translate(722.2 822.3) scale(0.9091 1)" font-size="24.64" font-weight="bold" text-anchor="middle" stroke="#000" stroke-width="0.3">12</text>
<text transform="translate(877 822.3) scale(0.9091 1)" font-size="24.64" font-weight="bold" text-anchor="middle" stroke="#000" stroke-width="0.3">0</text>
<text transform="translate(974.8 822.3) scale(0.9091 1)" font-size="24.64" font-weight="bold" text-anchor="middle" stroke="#000" stroke-width="0.3">12</text>
<text transform="translate(445.2 865.6) scale(0.9091 1)" font-size="24.75" font-weight="bold" text-anchor="start" textLength="256.9" lengthAdjust="spacingAndGlyphs" stroke="#000" stroke-width="0.3">Hours after treatment</text>
<text transform="translate(41 272.7) rotate(-90) scale(0.9346 1)" font-size="24.61" font-weight="bold" stroke="#000" stroke-width="0.45" textLength="234.3" lengthAdjust="spacingAndGlyphs">Relative expression</text>
<text transform="translate(41 543.0) rotate(-90) scale(0.9346 1)" font-size="24.61" font-weight="bold" stroke="#000" stroke-width="0.45" textLength="233.8" lengthAdjust="spacingAndGlyphs">Relative expression</text>
<text transform="translate(41 794.2) rotate(-90) scale(0.9346 1)" font-size="24.61" font-weight="bold" stroke="#000" stroke-width="0.45" textLength="233.3" lengthAdjust="spacingAndGlyphs">Relative expression</text>
</svg>
</body></html>
